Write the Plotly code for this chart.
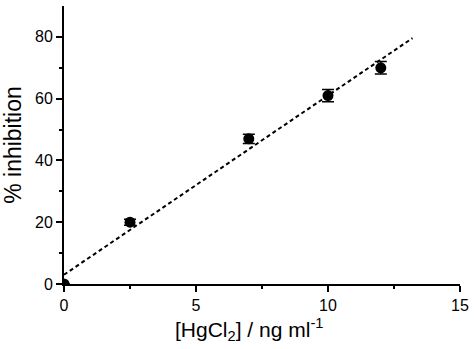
import plotly.graph_objects as go

# Measured inhibition vs. HgCl2 concentration
conc = [0.0, 2.5, 7.0, 10.0, 12.0]
inhibition = [0.0, 20.0, 47.0, 61.0, 70.0]
err = [0.0, 1.0, 1.5, 2.0, 2.0]

# Linear calibration line endpoints
fit_x = [0.0, 13.2]
fit_y = [3.0, 79.6]

font_family = "Arial, Liberation Sans, sans-serif"

fig = go.Figure()

fig.add_trace(go.Scatter(
    x=fit_x, y=fit_y, mode="lines",
    line=dict(color="black", width=2, dash="4px,3px"),
    showlegend=False, hoverinfo="skip",
))

fig.add_trace(go.Scatter(
    x=conc, y=inhibition, mode="markers",
    marker=dict(color="black", size=11, symbol="circle"),
    error_y=dict(type="data", array=err, visible=True,
                 color="black", thickness=1.5, width=6),
    showlegend=False,
))

axis_common = dict(
    showline=True, linecolor="black", linewidth=2,
    ticks="outside", ticklen=6, tickwidth=2, tickcolor="black",
    showgrid=False, zeroline=False, mirror=False,
    tickfont=dict(family=font_family, size=16, color="black"),
)

fig.update_xaxes(
    range=[0, 15], tickvals=[0, 5, 10, 15],
    minor=dict(tickvals=[2.5, 7.5, 12.5], ticks="outside", ticklen=3,
               tickwidth=2, tickcolor="black"),
    **axis_common,
)
fig.update_yaxes(
    range=[0, 90], tickvals=[0, 20, 40, 60, 80],
    minor=dict(tickvals=[10, 30, 50, 70], ticks="outside", ticklen=3,
               tickwidth=2, tickcolor="black"),
    title=dict(text="% inhibition",
               font=dict(family=font_family, size=23, color="black"),
               standoff=8),
    **axis_common,
)

# x-axis title, set slightly left of the plot centre
fig.add_annotation(
    text="[HgCl<sub>2</sub>] / ng ml<sup>-1</sup>",
    xref="paper", yref="paper", x=0.466, y=0,
    xanchor="center", yanchor="top", yshift=-29,
    showarrow=False,
    font=dict(family=font_family, size=21, color="black"),
)

fig.update_layout(
    width=474, height=349,
    margin=dict(l=64, r=14, t=6, b=65),
    plot_bgcolor="white", paper_bgcolor="white",
)

fig.write_html("out.html")
